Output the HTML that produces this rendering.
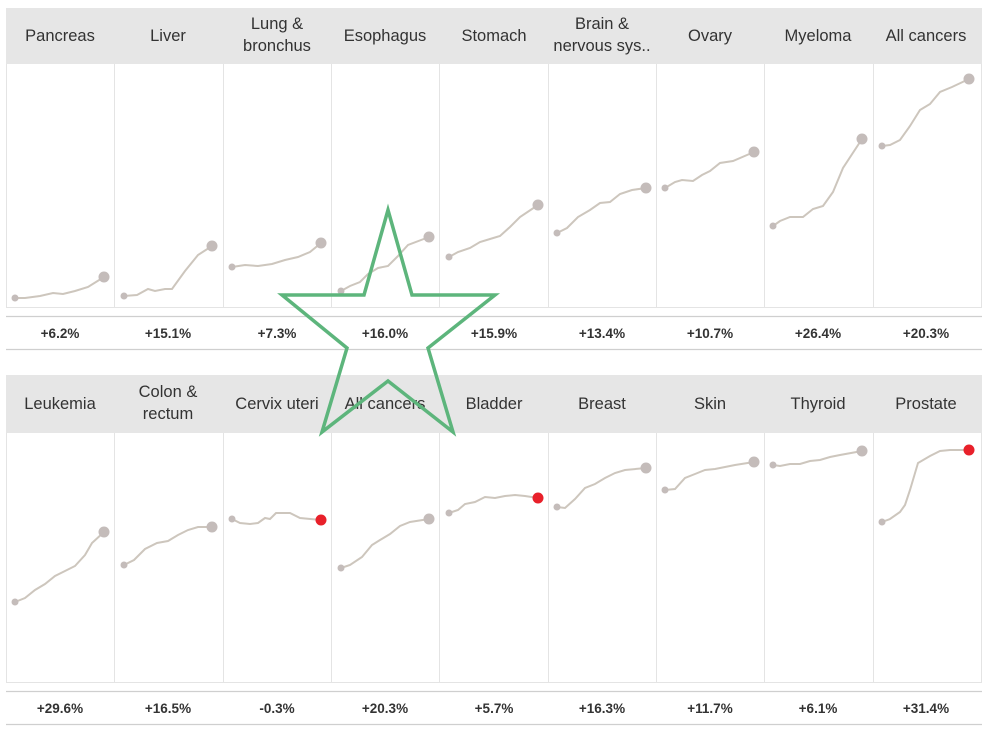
<!DOCTYPE html>
<html><head><meta charset="utf-8"><style>
body{margin:0;background:#fff;width:988px;height:733px;overflow:hidden;font-family:"Liberation Sans",sans-serif}
svg{position:absolute;left:0;top:0}
</style></head><body>
<svg width="988" height="733" xmlns="http://www.w3.org/2000/svg" font-family="Liberation Sans, sans-serif">
<g id="grid">
<rect x="6" y="8" width="976" height="56" fill="#e6e6e6"/>
<rect x="6" y="375" width="976" height="58" fill="#e6e6e6"/>
<g stroke="#e4e4e4" stroke-width="1">
<line x1="6.5" y1="64" x2="6.5" y2="307"/><line x1="114.5" y1="64" x2="114.5" y2="307"/><line x1="223.5" y1="64" x2="223.5" y2="307"/><line x1="331.5" y1="64" x2="331.5" y2="307"/><line x1="439.5" y1="64" x2="439.5" y2="307"/><line x1="548.5" y1="64" x2="548.5" y2="307"/><line x1="656.5" y1="64" x2="656.5" y2="307"/><line x1="764.5" y1="64" x2="764.5" y2="307"/><line x1="873.5" y1="64" x2="873.5" y2="307"/><line x1="981.5" y1="64" x2="981.5" y2="307"/>
<line x1="6" y1="307.5" x2="982" y2="307.5"/>
<line x1="6.5" y1="433" x2="6.5" y2="682"/><line x1="114.5" y1="433" x2="114.5" y2="682"/><line x1="223.5" y1="433" x2="223.5" y2="682"/><line x1="331.5" y1="433" x2="331.5" y2="682"/><line x1="439.5" y1="433" x2="439.5" y2="682"/><line x1="548.5" y1="433" x2="548.5" y2="682"/><line x1="656.5" y1="433" x2="656.5" y2="682"/><line x1="764.5" y1="433" x2="764.5" y2="682"/><line x1="873.5" y1="433" x2="873.5" y2="682"/><line x1="981.5" y1="433" x2="981.5" y2="682"/>
<line x1="6" y1="682.5" x2="982" y2="682.5"/>
</g>
<g stroke="#cfcfcf" stroke-width="1.2">
<line x1="6" y1="316.5" x2="982" y2="316.5"/><line x1="6" y1="349.5" x2="982" y2="349.5"/>
<line x1="6" y1="691.5" x2="982" y2="691.5"/><line x1="6" y1="724.5" x2="982" y2="724.5"/>
</g>
</g>
<g font-size="16.5" fill="#333" text-anchor="middle">
<text x="60" y="41">Pancreas</text><text x="168" y="41">Liver</text>
<text x="277" y="29">Lung &amp;</text><text x="277" y="51">bronchus</text>
<text x="385" y="41">Esophagus</text><text x="494" y="41">Stomach</text>
<text x="602" y="29">Brain &amp;</text><text x="602" y="51">nervous sys..</text>
<text x="710" y="41">Ovary</text><text x="818" y="41">Myeloma</text><text x="926" y="41">All cancers</text>
<text x="60" y="409">Leukemia</text>
<text x="168" y="397">Colon &amp;</text><text x="168" y="419">rectum</text>
<text x="277" y="409">Cervix uteri</text><text x="385" y="409">All cancers</text>
<text x="494" y="409">Bladder</text><text x="602" y="409">Breast</text><text x="710" y="409">Skin</text>
<text x="818" y="409">Thyroid</text><text x="926" y="409">Prostate</text>
</g>
<g font-size="13.5" fill="#333" text-anchor="middle" font-weight="bold">
<text x="60" y="338">+6.2%</text><text x="168" y="338">+15.1%</text><text x="277" y="338">+7.3%</text><text x="385" y="338">+16.0%</text><text x="494" y="338">+15.9%</text><text x="602" y="338">+13.4%</text><text x="710" y="338">+10.7%</text><text x="818" y="338">+26.4%</text><text x="926" y="338">+20.3%</text>
<text x="60" y="713">+29.6%</text><text x="168" y="713">+16.5%</text><text x="277" y="713">-0.3%</text><text x="385" y="713">+20.3%</text><text x="494" y="713">+5.7%</text><text x="602" y="713">+16.3%</text><text x="710" y="713">+11.7%</text><text x="818" y="713">+6.1%</text><text x="926" y="713">+31.4%</text>
</g>
<g fill="none" stroke="#cdc6bd" stroke-width="2">
<polyline points="15,298 25,298 40,296 53,293 63,294 75,291 88,287 104,277"/>
<polyline points="124,296 137,295 148,289 155,291 165,289 172,289 185,271 198,255 212,246"/>
<polyline points="232,267 245,265 258,266 272,264 285,260 298,257 310,252 321,243"/>
<polyline points="341,291 350,286 360,282 368,274 378,268 388,266 398,256 408,245 429,237"/>
<polyline points="449,257 458,252 470,248 480,242 490,239 500,236 510,227 520,217 538,205"/>
<polyline points="557,233 567,228 578,217 590,210 600,203 610,202 620,194 632,190 646,188"/>
<polyline points="665,188 675,182 682,180 693,181 702,175 710,171 720,163 733,161 754,152"/>
<polyline points="773,226 780,221 790,217 803,217 813,209 823,206 833,192 843,168 862,139"/>
<polyline points="882,146 890,145 900,140 910,126 920,110 930,104 940,92 952,87 969,79"/>
<polyline points="15,602 25,598 35,590 45,584 55,576 65,571 75,566 85,555 92,543 104,532"/>
<polyline points="124,565 134,560 145,549 157,543 168,541 178,535 188,530 198,527 212,527"/>
<polyline points="232,519 240,523 250,524 258,523 265,518 270,519 276,513 290,513 300,518 321,520"/>
<polyline points="341,568 350,565 362,557 372,545 380,540 390,534 400,526 410,522 429,519"/>
<polyline points="449,513 458,510 465,504 475,502 485,497 495,498 505,496 515,495 525,496 538,498"/>
<polyline points="557,507 565,508 575,499 585,488 595,484 605,478 615,473 625,470 646,468"/>
<polyline points="665,490 675,489 685,478 695,474 705,470 715,469 725,467 735,465 754,462"/>
<polyline points="773,465 780,466 790,464 800,464 810,461 820,460 830,457 840,455 862,451"/>
<polyline points="882,522 890,519 900,512 905,505 910,490 918,463 930,456 940,451 950,450 969,450"/>
</g>
<g fill="#c4bcba">
<circle cx="15" cy="298" r="3.5"/><circle cx="104" cy="277" r="5.5"/>
<circle cx="124" cy="296" r="3.5"/><circle cx="212" cy="246" r="5.5"/>
<circle cx="232" cy="267" r="3.5"/><circle cx="321" cy="243" r="5.5"/>
<circle cx="341" cy="291" r="3.5"/><circle cx="429" cy="237" r="5.5"/>
<circle cx="449" cy="257" r="3.5"/><circle cx="538" cy="205" r="5.5"/>
<circle cx="557" cy="233" r="3.5"/><circle cx="646" cy="188" r="5.5"/>
<circle cx="665" cy="188" r="3.5"/><circle cx="754" cy="152" r="5.5"/>
<circle cx="773" cy="226" r="3.5"/><circle cx="862" cy="139" r="5.5"/>
<circle cx="882" cy="146" r="3.5"/><circle cx="969" cy="79" r="5.5"/>
<circle cx="15" cy="602" r="3.5"/><circle cx="104" cy="532" r="5.5"/>
<circle cx="124" cy="565" r="3.5"/><circle cx="212" cy="527" r="5.5"/>
<circle cx="232" cy="519" r="3.5"/>
<circle cx="341" cy="568" r="3.5"/><circle cx="429" cy="519" r="5.5"/>
<circle cx="449" cy="513" r="3.5"/>
<circle cx="557" cy="507" r="3.5"/><circle cx="646" cy="468" r="5.5"/>
<circle cx="665" cy="490" r="3.5"/><circle cx="754" cy="462" r="5.5"/>
<circle cx="773" cy="465" r="3.5"/><circle cx="862" cy="451" r="5.5"/>
<circle cx="882" cy="522" r="3.5"/>
</g>
<g fill="#e8202a">
<circle cx="321" cy="520" r="5.5"/><circle cx="538" cy="498" r="5.5"/><circle cx="969" cy="450" r="5.5"/>
</g>
<polygon points="388,210 412,295 495,295 428,348 453,432 388,381 322,432 347,348 282,295 364,295" fill="none" stroke="#5db57c" stroke-width="3.5" stroke-linejoin="miter"/>
</svg>
</body></html>
